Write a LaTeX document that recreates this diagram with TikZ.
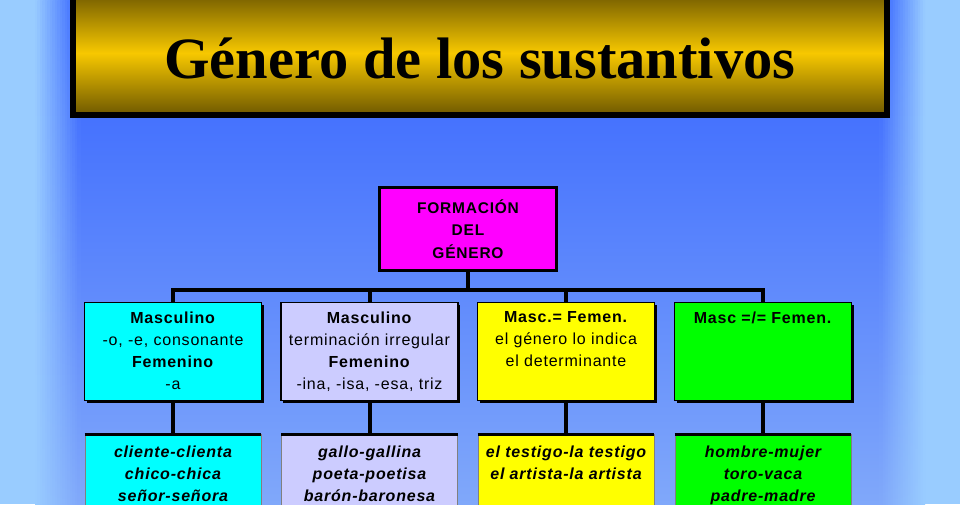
\documentclass[tikz,border=0pt]{standalone}
\usepackage{fontspec}
\setmainfont{Liberation Sans}
\newfontfamily\titlefont{Liberation Serif}
\newfontfamily\boxfont[LetterSpace=5]{Liberation Sans}
\usetikzlibrary{positioning,shadows}
\definecolor{sidelight}{HTML}{99CCFF}
\definecolor{bgtop}{HTML}{3462FF}
\definecolor{bgbottom}{HTML}{80A8FA}
\definecolor{golddark}{HTML}{6E5800}
\definecolor{goldmid}{HTML}{F7C800}
\definecolor{boxmagenta}{RGB}{255,0,255}
\definecolor{boxcyan}{RGB}{0,255,255}
\definecolor{boxyellow}{RGB}{255,255,0}
\definecolor{boxgreen}{RGB}{0,255,0}
\definecolor{lavender}{RGB}{204,204,255}

\begin{document}
\begin{tikzpicture}[x=1pt, y=-1pt,
        banner/.style={rectangle, draw=black, line width=6pt, top color=golddark, bottom color=golddark, middle color=goldmid, minimum width=814pt, minimum height=124pt},
        headbox/.style={rectangle, draw=black, line width=3pt, fill=boxmagenta, minimum width=177pt, minimum height=83pt, align=center, font=\boxfont\bfseries\fontsize{15.5}{22.5}\selectfont},
        kindbox/.style={rectangle, draw=black, line width=1.5pt, minimum width=177pt, minimum height=98pt, drop shadow={shadow xshift=2pt, shadow yshift=-2pt, fill=black, opacity=1}},
        kindtext/.style={align=center, inner sep=0pt, font=\boxfont\fontsize{16}{22}\selectfont},
        examplebox/.style={rectangle, draw=gray, line width=0.6pt, minimum width=176pt, minimum height=100pt, anchor=north},
        exampletext/.style={align=center, inner sep=0pt, font=\boxfont\bfseries\itshape\fontsize{16}{22}\selectfont},
        topline/.style={line width=3pt},
        wire/.style={line width=4pt, line join=miter}
    ]
        \useasboundingbox (0,0) rectangle (960,504);
        \clip (0,0) rectangle (960,504);

        % Background
        \fill[sidelight] (0,0) rectangle (960,504);
        \shade[top color=bgtop, bottom color=bgbottom] (80,0) rectangle (880,504);
        \foreach \i in {0,...,17} {
            \pgfmathsetmacro\t{100*(\i+0.5)/18}
            \shade[top color=bgtop!\t!sidelight, bottom color=bgbottom!\t!sidelight] (35+2.5*\i,0) rectangle (38+2.5*\i,504);
            \shade[top color=bgtop!\t!sidelight, bottom color=bgbottom!\t!sidelight] (925-2.5*\i,0) rectangle (922-2.5*\i,504);
        }

        % Title
        \node[banner] (banner) at (480,53) {};
        \node[anchor=base, font=\titlefont\bfseries\fontsize{58.5}{60}\selectfont] (title) at (480,78) {Género de los sustantivos};

        % Top box
        \node[headbox] (head) at (468,229) {FORMACIÓN\\DEL\\GÉNERO};

        % Second row
        \node[kindbox, fill=boxcyan] (m1) at (173,351.5) {};
        \node[kindbox, fill=lavender] (m2) at (369.5,351.5) {};
        \node[kindbox, fill=boxyellow] (m3) at (566,351.5) {};
        \node[kindbox, fill=boxgreen] (m4) at (763,351.5) {};
        \node[kindtext, below=9.5pt of m1.north] (m1t) {\textbf{Masculino}\\-o, -e, consonante\\\textbf{Femenino}\\-a};
        \node[kindtext, below=9.5pt of m2.north] (m2t) {\textbf{Masculino}\\terminación irregular\\\textbf{Femenino}\\-ina, -isa, -esa, triz};
        \node[kindtext, below=9.5pt of m3.north] (m3t) {\textbf{Masc.= Femen.}\\el género lo indica\\el determinante};
        \node[kindtext, below=9.5pt of m4.north] (m4t) {\textbf{Masc =/= Femen.}};

        % Third row
        \node[examplebox, fill=boxcyan] (e1) at (173,434) {};
        \node[examplebox, fill=lavender] (e2) at (369.5,434) {};
        \node[examplebox, fill=boxyellow] (e3) at (566,434) {};
        \node[examplebox, fill=boxgreen] (e4) at (763,434) {};
        \draw[topline] (e1.north west) -- (e1.north east);
        \draw[topline] (e2.north west) -- (e2.north east);
        \draw[topline] (e3.north west) -- (e3.north east);
        \draw[topline] (e4.north west) -- (e4.north east);
        \node[exampletext, below=11.3pt of e1.north] (e1t) {cliente-clienta\\chico-chica\\señor-señora};
        \node[exampletext, below=11.3pt of e2.north] (e2t) {gallo-gallina\\poeta-poetisa\\barón-baronesa};
        \node[exampletext, below=11.3pt of e3.north] (e3t) {el testigo-la testigo\\el artista-la artista};
        \node[exampletext, below=11.3pt of e4.north] (e4t) {hombre-mujer\\toro-vaca\\padre-madre};

        % Connectors
        \draw[wire] (head.south) -- ++(0,17.5) -| (m1.north);
        \draw[wire] (head.south) -- ++(0,17.5) -| (m2.north);
        \draw[wire] (head.south) -- ++(0,17.5) -| (m3.north);
        \draw[wire] (head.south) -- ++(0,17.5) -| (m4.north);
        \draw[wire] (m1.south) -- (e1.north);
        \draw[wire] (m2.south) -- (e2.north);
        \draw[wire] (m3.south) -- (e3.north);
        \draw[wire] (m4.south) -- (e4.north);

    \end{tikzpicture}
\end{document}
